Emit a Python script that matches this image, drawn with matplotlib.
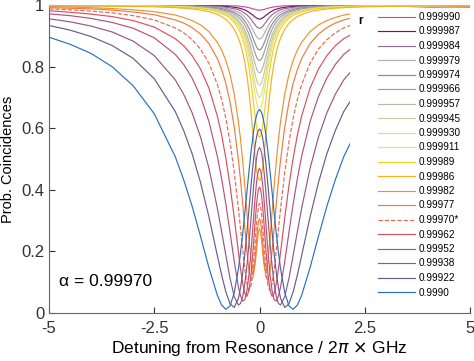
import numpy as np
import matplotlib.pyplot as plt
from matplotlib.patches import Rectangle

plt.rcParams['font.family'] = ['Liberation Sans', 'DejaVu Sans']

# detuning (one half, 2pi x GHz); curves are symmetric about zero
detuning = [0, .025, .05, .075, .1, .125, .15, .2, .25, .3, .35, .4, .45, .5, .6, .7,
            .8, .9, 1, 1.2, 1.4, 1.6, 1.8, 2, 2.5, 3, 3.5, 4, 4.5, 5]

r_labels = ['0.999990', '0.999987', '0.999984', '0.999979', '0.999974', '0.999966',
            '0.999957', '0.999945', '0.999930', '0.999911', '0.99989', '0.99986',
            '0.99982', '0.99977', '0.99970*', '0.99962', '0.99952', '0.99938',
            '0.99922', '0.9990']

# coincidence probability x 1000, one row per r (same order as r_labels)
coinc = [
    [984, 984, 985, 985, 986, 987, 988, 990, 992, 993, 995, 995, 996, 997, 998, 998, 999, 999, 999, 999, 999, 999, 999, 999, 999, 999, 999, 999, 999, 999],
    [955, 955, 957, 959, 961, 964, 967, 972, 977, 981, 985, 987, 989, 991, 993, 995, 996, 997, 997, 998, 999, 999, 999, 999, 999, 999, 999, 999, 999, 999],
    [925, 926, 928, 931, 935, 940, 944, 954, 962, 969, 974, 978, 982, 985, 989, 991, 993, 994, 995, 997, 998, 998, 999, 999, 999, 999, 999, 999, 999, 999],
    [890, 891, 894, 899, 904, 911, 918, 931, 943, 953, 961, 968, 973, 977, 983, 987, 990, 992, 993, 995, 996, 997, 998, 998, 999, 999, 999, 999, 999, 999],
    [855, 856, 860, 866, 874, 882, 891, 909, 925, 938, 948, 957, 964, 969, 977, 982, 986, 989, 991, 993, 995, 996, 997, 998, 998, 999, 999, 999, 999, 999],
    [820, 822, 826, 833, 843, 853, 864, 886, 905, 922, 935, 946, 954, 961, 971, 978, 982, 986, 988, 992, 994, 995, 996, 997, 998, 999, 999, 999, 999, 999],
    [780, 782, 787, 796, 807, 819, 833, 859, 883, 903, 919, 932, 943, 951, 964, 972, 978, 982, 985, 990, 992, 994, 995, 996, 998, 998, 999, 999, 999, 999],
    [740, 742, 749, 760, 773, 788, 804, 836, 865, 888, 908, 923, 935, 945, 959, 969, 975, 980, 984, 988, 991, 993, 995, 996, 997, 998, 999, 999, 999, 999],
    [700, 703, 711, 724, 740, 758, 777, 815, 848, 875, 897, 914, 928, 939, 955, 966, 973, 978, 982, 987, 991, 993, 994, 995, 997, 998, 998, 999, 999, 999],
    [660, 663, 673, 688, 707, 728, 751, 794, 832, 863, 888, 907, 922, 934, 951, 963, 971, 977, 981, 986, 990, 992, 994, 995, 997, 998, 998, 999, 999, 999],
    [570, 574, 587, 608, 633, 662, 692, 750, 798, 837, 868, 891, 910, 924, 944, 958, 967, 973, 978, 985, 989, 991, 993, 994, 996, 997, 998, 999, 999, 999],
    [430, 434, 448, 470, 500, 536, 575, 651, 718, 773, 815, 848, 873, 893, 922, 941, 954, 963, 970, 979, 984, 988, 990, 992, 995, 996, 997, 998, 998, 999],
    [273, 262, 234, 197, 163, 141, 135, 167, 240, 328, 415, 494, 563, 621, 711, 775, 821, 854, 879, 914, 936, 950, 960, 968, 979, 985, 989, 992, 994, 995],
    [306, 295, 267, 226, 183, 145, 118, 104, 138, 202, 278, 356, 430, 496, 604, 685, 746, 791, 826, 875, 906, 927, 942, 952, 969, 978, 984, 988, 990, 992],
    [355, 346, 320, 282, 236, 190, 147, 89, 73, 96, 144, 205, 272, 338, 457, 555, 633, 694, 742, 811, 857, 888, 910, 926, 952, 966, 975, 981, 985, 988],
    [409, 402, 380, 346, 303, 256, 209, 126, 72, 53, 63, 96, 142, 196, 309, 414, 503, 578, 639, 730, 792, 836, 868, 891, 929, 950, 963, 971, 977, 982],
    [469, 463, 445, 417, 380, 338, 292, 201, 124, 70, 42, 38, 54, 83, 167, 262, 354, 436, 508, 621, 703, 763, 807, 840, 894, 925, 944, 957, 966, 972],
    [537, 532, 519, 497, 468, 434, 395, 310, 225, 151, 92, 52, 30, 25, 52, 112, 187, 264, 339, 469, 571, 650, 710, 757, 836, 883, 913, 932, 946, 956],
    [597, 594, 584, 568, 546, 519, 487, 415, 337, 259, 189, 129, 81, 47, 17, 29, 68, 123, 185, 311, 423, 517, 592, 654, 761, 827, 869, 898, 919, 934],
    [660, 657, 650, 639, 623, 603, 580, 524, 460, 391, 322, 256, 196, 143, 65, 22, 11, 25, 56, 146, 248, 346, 432, 507, 647, 738, 800, 843, 873, 896],
]

colors = ['#c8509e', '#6e1866', '#9a6a96', '#b8aab8', '#8c8c96', '#9e9e9e', '#b8b8a6',
          '#cccca0', '#dcdc90', '#e8e470', '#f5d020', '#f5b020', '#f19030', '#ee7a40',
          '#e66a50', '#d85060', '#b8507a', '#945882', '#6a5a8e', '#2a70c0']

xh = np.array(detuning)
x = np.concatenate([-xh[::-1], xh[1:]])

fig = plt.figure(figsize=(4.74, 3.61), dpi=100)
ax = fig.add_axes([49/474, 1 - 312.7/361, 421/474, 307.5/361])
for i in range(len(r_labels)):
    yh = np.array(coinc[i]) / 1000
    y = np.concatenate([yh[::-1], yh[1:]])
    ax.plot(x, y, color=colors[i], lw=0.85, ls='--' if i == 14 else '-',
            label=r_labels[i], zorder=3 + i * 0.01)

ax.set_xlim(-5, 5)
ax.set_ylim(0, 1)
ax.set_xticks([-5, -2.5, 0, 2.5, 5])
ax.set_xticklabels(['-5', '-2.5', '0', '2.5', '5'])
ax.set_yticks([0, 0.2, 0.4, 0.6, 0.8, 1])
ax.set_yticklabels(['0', '0.2', '0.4', '0.6', '0.8', '1'])
ax.tick_params(direction='in', labelsize=12, colors='#333333', length=4)
ax.tick_params(axis='x', pad=6)
for s in ['top', 'right']:
    ax.spines[s].set_visible(False)
for s in ['left', 'bottom']:
    ax.spines[s].set_color('#666666')
ax.set_xlabel('Detuning from Resonance / 2$\\pi$ $\\times$ GHz', fontsize=12.5, labelpad=2)
ax.set_ylabel('Prob. Coincidences', fontsize=10.5)
ax.text(-4.77, 0.1, 'α = 0.99970', fontsize=12.5, va='center')

# white panel behind the legend
ax.add_patch(Rectangle((350/474, 1 - 300/361), 124/474, 292/361, transform=fig.transFigure,
                       facecolor='white', edgecolor='none', zorder=5, clip_on=False))
leg = ax.legend(loc='upper left', bbox_to_anchor=(375/474, 1 - 9/361),
                bbox_transform=fig.transFigure, frameon=False, fontsize=7.2,
                handlelength=3.7, handletextpad=0.35, labelspacing=0.45,
                borderaxespad=0, borderpad=0.3)
leg.set_zorder(10)
ax.text(358/474, 1 - 21/361, 'r', transform=fig.transFigure, fontsize=8.5,
        fontweight='bold', va='center', zorder=11)

fig.savefig('out.png', dpi=100)
